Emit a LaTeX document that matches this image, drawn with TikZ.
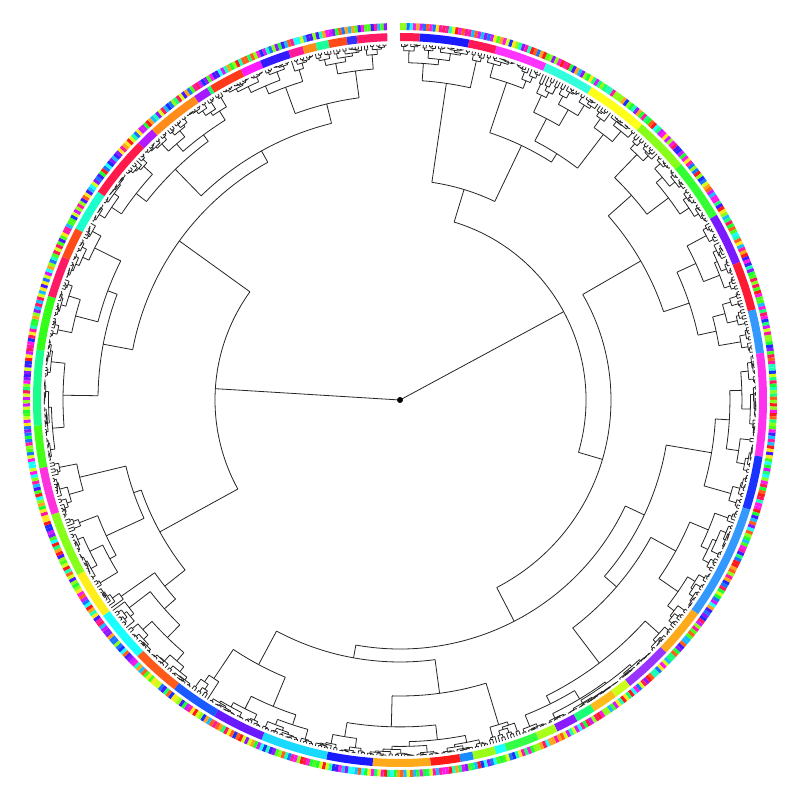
\documentclass[tikz,border=0pt]{standalone}
\usepackage{tikz}
\tikzset{
  br/.style  ={draw=black!85,line width=0.8pt},
  dot/.style ={circle,fill=black,inner sep=0pt,minimum size=6pt},
}
\def\Rleaf{356}
\def\leafw{0.5}
% random clade: low angle, high angle, parent radius, own radius
\newcommand\rclade[4]{\begingroup
  \pgfmathsetmacro\cspan{(#2)-(#1)}%
  \pgfmathtruncatemacro\cn{round(\cspan/\leafw)}%
  \ifnum\cn<2
    \pgfmathsetmacro\cm{((#1)+(#2))/2}%
    \draw[br] (\cm:#3pt) -- (\cm:\Rleaf pt);
    \xdef\cladeang{\cm}%
  \else
    \pgfmathtruncatemacro\ck{max(1,min(\cn-1,round(\cn*(0.15+0.7*rnd))))}%
    \pgfmathsetmacro\cs{(#1)+\ck*\leafw}%
    \pgfmathsetmacro\hh{\Rleaf-#4}%
    \pgfmathsetmacro\rA{\Rleaf-\hh*min(0.9,(0.45+0.5*rnd)*sqrt(\ck/\cn))}%
    \pgfmathsetmacro\rB{\Rleaf-\hh*min(0.9,(0.45+0.5*rnd)*sqrt((\cn-\ck)/\cn))}%
    \edef\next{\noexpand\rclade{#1}{\cs}{#4}{\rA}}\next\let\angA\cladeang
    \edef\next{\noexpand\rclade{\cs}{#2}{#4}{\rB}}\next\let\angB\cladeang
    \draw[br] (\angA:#4pt) arc[start angle=\angA,end angle=\angB,radius=#4pt];
    \pgfmathsetmacro\cm{(\angA+\angB)/2}%
    \draw[br] (\cm:#3pt) -- (\cm:#4pt);
    \xdef\cladeang{\cm}%
  \fi
\endgroup}
% fixed clade: parent radius, own radius, two children
\newcommand\mclade[4]{\begingroup
  #3\let\angA\cladeang
  #4\let\angB\cladeang
  \draw[br] (\angA:#2pt) arc[start angle=\angA,end angle=\angB,radius=#2pt];
  \pgfmathsetmacro\cm{(\angA+\angB)/2}%
  \draw[br] (\cm:#1pt) -- (\cm:#2pt);
  \xdef\cladeang{\cm}%
\endgroup}

\begin{document}
\begin{tikzpicture}
  \fill[white] (-400pt,-400pt) rectangle (400pt,400pt);
  \useasboundingbox (-400pt,-400pt) rectangle (400pt,400pt);
  \pgfmathsetseed{2718}

  % cluster ring
  \foreach \a/\b/\c in {90/86.9/FF1A4D,86.9/79.1/1A1AFF,79.1/74.7/FF1A55,74.7/66.5/FF33FF,
      66.5/58.5/33FFDD,58.5/48.7/FFFF1A,48.7/40/88FF1A,40/30.3/33FF33,30.3/22.1/7A1AFF,
      22.1/14.3/FF1A33,14.3/7.4/3399FF,7.4/-8.9/FF33EE,-8.9/-17.4/1A33FF,-17.4/-35.7/3399FF,
      -35.7/-43.5/FFAA1A,-43.5/-51.2/9933FF,-51.2/-54/CCFF1A,-54/-58/FFBB1A,-58/-61.1/1AFF77,
      -61.1/-64.6/8A1AFF,-64.6/-67.8/AAFF1A,-67.8/-73.1/33FF44,-73.1/-74.8/1AFFFF,
      -74.8/-78.4/99FF1A,-78.4/-80.5/1A8CFF,-80.5/-85.2/FF1A1A,-85.2/-94.3/FFAA1A,
      -94.3/-101.6/1A1AFF,-101.6/-112.2/1AD9FF,-112.2/-120.4/6A1AFF,-120.4/-128/1A5AFF,
      -128/-135.7/FF5A1A,-135.7/-144/1AFFFF,-144/-151.5/FFEE1A,-151.5/-161.8/88FF1A,
      -161.8/-169.3/FF33DD,-169.3/-176/44FF1A,-176/-187.9/1AFF8C,-187.9/-196.5/33FF1A,
      -196.5/-203/FF1A66,-203/-207.9/FF4A1A,-207.9/-214.6/1AFFCC,-214.6/-224.5/FF1A4A,
      -224.5/-227.5/B31AFF,-227.5/-235.9/FF8C1A,-235.9/-238.3/A31AFF,-238.3/-238.9/1AFF66,
      -238.9/-244.3/FF3A1A,-244.3/-247.6/FF1AFF,-247.6/-252.3/331AFF,-252.3/-254.6/FF1A9C,
      -254.6/-256.7/FF8C1A,-256.7/-258.7/1AFF99,-258.7/-261.6/FF4A1A,-261.6/-263.2/3333FF,
      -263.2/-268/FF1A66}{
    \definecolor{blk}{HTML}{\c}
    \fill[blk] (\a:359pt) arc[start angle=\a,end angle=\b,radius=359pt]
      -- (\b:367pt) arc[start angle=\b,end angle=\a,radius=367pt] -- cycle;
  }

  % label ring
  \foreach \i in {0,...,715}{
    \pgfmathsetmacro\a{90-\i*\leafw}
    \pgfmathsetmacro\b{\a-\leafw}
    \pgfmathtruncatemacro\h{18*floor(20*rnd)}
    \definecolor{seg}{Hsb}{\h,0.9,1}
    \fill[seg] (\a:370pt) arc[start angle=\a,end angle=\b,radius=370pt]
      -- (\b:377pt) arc[start angle=\b,end angle=\a,radius=377pt] -- cycle;
  }

  % left half
  \mclade{0}{185}{%
    \mclade{185}{272}{%
      \mclade{272}{285}{%
        \mclade{285}{305}{\rclade{-268}{-256}{305}{332}}{\rclade{-256}{-240}{305}{333}}}{%
        \mclade{285}{322}{\rclade{-240}{-224}{322}{330}}{\rclade{-224}{-210}{322}{335}}}}{%
      \mclade{272}{302}{\rclade{-210}{-190}{302}{312}}{\rclade{-190}{-170}{302}{337}}}}{%
    \mclade{185}{274}{\rclade{-170}{-148}{274}{282}}{\rclade{-148}{-126}{274}{300}}}

  % right half
  \mclade{0}{186}{%
    \mclade{186}{220}{\rclade{76}{90}{220}{320}}{%
      \mclade{220}{282}{\rclade{66.5}{76}{282}{335}}{\rclade{48.5}{66.5}{282}{292}}}}{%
    \mclade{186}{211}{%
      \mclade{211}{278}{\rclade{30}{48.5}{278}{309}}{\rclade{7.5}{30}{278}{305}}}{%
      \mclade{211}{249}{%
        \mclade{249}{270}{\rclade{-18}{7.5}{270}{316}}{\rclade{-70}{-18}{270}{286}}}{%
        \mclade{249}{262}{\rclade{-126}{-104}{262}{300}}{\rclade{-104}{-70}{262}{296}}}}}

  \node[dot] (root) at (0,0) {};
\end{tikzpicture}
\end{document}
